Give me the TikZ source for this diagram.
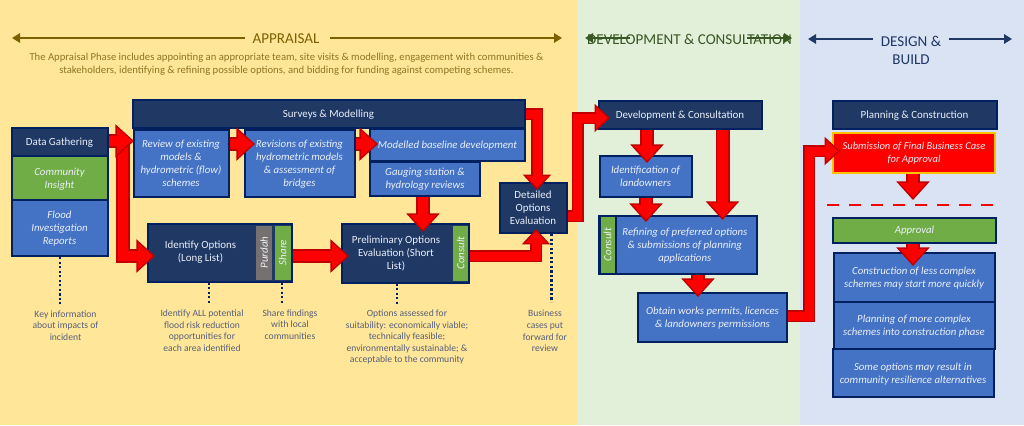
\documentclass[tikz,border=0pt]{standalone}
\usepackage{fontspec}
\setmainfont{Carlito}
\usetikzlibrary{arrows.meta}
\definecolor{navyfill}{HTML}{1F3864}
\definecolor{navyline}{HTML}{002060}
\definecolor{bluefill}{HTML}{4472C4}
\definecolor{greenfill}{HTML}{70AD47}
\definecolor{greyfill}{HTML}{767171}
\definecolor{goldline}{HTML}{FFC000}
\definecolor{flowdark}{HTML}{C00000}
\definecolor{paneyellow}{HTML}{FFE699}
\definecolor{panegreen}{HTML}{E2F0D9}
\definecolor{paneblue}{HTML}{DAE3F3}
\definecolor{headgold}{HTML}{7F6000}
\definecolor{headgreen}{HTML}{385723}
\definecolor{headblue}{HTML}{203864}
\definecolor{introtext}{HTML}{8F7722}
\definecolor{notetext}{HTML}{55607A}
\definecolor{boxtext}{HTML}{EAEFF8}
\newcommand{\redflow}[1]{\draw [flowunder] #1; \draw [flowover] #1;}
\newcommand{\redslim}[1]{\draw [slimunder] #1; \draw [slimover] #1;}
\begin{document}
\begin{tikzpicture}[x=0.75pt,y=-0.75pt]
\tikzstyle{every node}+=[inner sep=0pt, align=center]
\tikzstyle{size}=[minimum width=#1*0.75pt]
\tikzstyle{high}=[minimum height=#1*0.75pt]
\tikzstyle{bodyfont}=[font=\fontsize{8.2}{9.75}\selectfont]
\tikzstyle{navybox}=[draw=navyline, fill=navyfill, line width=1.5pt, text=boxtext, text depth=0pt, bodyfont]
\tikzstyle{bluebox}=[draw=navyline, fill=bluefill, line width=1.5pt, text=boxtext, text depth=0pt, font=\fontsize{8.1}{9.75}\selectfont\itshape]
\tikzstyle{greenbox}=[bluebox, fill=greenfill]
\tikzstyle{tabbox}=[text=boxtext, font=\fontsize{8.2}{9.75}\selectfont\itshape, rotate=90]
\tikzstyle{note}=[text=notetext, font=\fontsize{7.2}{8.65}\selectfont]
\tikzstyle{heading}=[font=\fontsize{11.3}{13.5}\selectfont]
\tikzstyle{flowunder}=[draw=flowdark, line width=10.5pt, -{Triangle[fill=red, color=flowdark, line width=1.1pt, width=25pt, length=14pt]}]
\tikzstyle{flowover}=[draw=red, line width=8pt, shorten >=10.5pt]
\tikzstyle{slimunder}=[draw=flowdark, line width=9pt, -{Triangle[fill=red, color=flowdark, line width=1.1pt, width=21pt, length=11.5pt]}]
\tikzstyle{slimover}=[draw=red, line width=6.75pt, shorten >=8.5pt]
\tikzstyle{stalk}=[draw=navyline, line width=1.6pt, dash pattern=on 1.7pt off 1.7pt]
\tikzstyle{phase}=[line width=1.9pt, {Triangle[width=7pt,length=6pt]}-]
\useasboundingbox (0,0) rectangle (1024,425);
\fill [paneyellow] (0,0) rectangle (577,425);
\fill [panegreen] (577,0) rectangle (800,425);
\fill [paneblue] (800,0) rectangle (1024,425);
\node (apphead) at (286,39) [heading, text=headgold] {APPRAISAL};
\node (appintro) at (286.5,64.5) [text=introtext, font=\fontsize{8}{9.75}\selectfont] {The Appraisal Phase includes appointing an appropriate team, site visits \& modelling, engagement with communities \&\\stakeholders, identifying \& refining possible options, and bidding for funding against competing schemes.};
\node (devhead) at (689.5,39) [heading, text=headgreen] {DEVELOPMENT \& CONSULTATION};
\node (deshead) at (911,50) [heading, text=headblue] {DESIGN \&\\BUILD};
\coordinate (appleft) at (12,38);
\coordinate (appright) at (562,38);
\coordinate (devleft) at (585,38);
\coordinate (devleftend) at (630,38);
\coordinate (devright) at (792,38);
\coordinate (devrightend) at (747,38);
\coordinate (desleft) at (808,39);
\coordinate (desright) at (1012,39);
\draw [phase, headgold] (appleft) -- (245,38);
\draw [phase, headgold] (appright) -- (330,38);
\draw [phase, headgreen] (devleft) -- (devleftend);
\draw [phase, headgreen] (devright) -- (devrightend);
\draw [phase, headblue] (desleft) -- (873,39);
\draw [phase, headblue] (desright) -- (949,39);
\node (dg) at (59.5,141.5) [navybox, size=96, high=28] {Data Gathering};
\node (comm) at (59.5,178) [greenbox, size=96, high=44] {Community\\Insight};
\node (flood) at (59.5,228) [bluebox, size=96, high=56] {Flood\\Investigation\\Reports};
\node (surv) at (328.5,114) [navybox, size=392, high=28] {Surveys \& Modelling};
\node (rev1) at (181,163) [bluebox, size=95, high=67] {Review of existing\\models \&\\hydrometric (flow)\\schemes};
\node (rev2) at (299.5,163) [bluebox, size=110, high=67] {Revisions of existing\\hydrometric models\\\& assessment of\\bridges};
\node (base) at (447.5,145) [bluebox, size=155, high=32] {Modelled baseline development};
\node (gauge) at (425,178.5) [bluebox, size=110, high=34] {Gauging station \&\\hydrology reviews};
\node (idop) at (219.5,252.5) [navybox, size=144, high=58] {};
\node (idoplbl) at (200.5,252.5) [text=boxtext, bodyfont] {Identify Options\\(Long List)};
\node (purdah) at (264,252.5) [tabbox, fill=greyfill, size=54, high=16] {Purdah};
\node (share) at (282.5,252.5) [tabbox, fill=greenfill, size=54, high=16] {Share};
\node (prelim) at (405,253) [navybox, size=127, high=59] {};
\node (prelimlbl) at (396,253) [text=boxtext, bodyfont] {Preliminary Options\\Evaluation (Short\\List)};
\node (consa) at (460.5,253) [tabbox, fill=greenfill, size=55, high=15] {Consult};
\node (detail) at (533,208) [navybox, size=67, high=50] {Detailed\\Options\\Evaluation};
\node (dev) at (680,114.5) [navybox, size=163, high=28] {Development \& Consultation};
\node (land) at (645.5,176) [bluebox, size=92, high=41] {Identification of\\landowners};
\node (refin) at (677.5,244.5) [bluebox, size=158, high=58] {\hspace*{11pt}Refining of preferred options\\\hspace*{11pt}\& submissions of planning\\\hspace*{11pt}applications};
\node (consb) at (607.5,244.5) [tabbox, draw=navyline, line width=1.5pt, fill=greenfill, size=58, high=16] {Consult};
\node (obtain) at (712.5,317) [bluebox, size=149, high=49] {Obtain works permits, licences\\\& landowners permissions};
\node (plan) at (914.5,114.5) [navybox, size=164, high=28] {Planning \& Construction};
\node (subm) at (914,152.5) [bluebox, draw=goldline, fill=red, size=162, high=40, font=\fontsize{7.9}{9.75}\selectfont\itshape] {Submission of Final Business Case\\for Approval};
\node (appr) at (914.5,230) [greenbox, size=163, high=25] {Approval};
\node (cons1) at (914,277.5) [bluebox, size=161, high=49] {Construction of less complex\\schemes may start more quickly};
\node (cons2) at (914,325.5) [bluebox, size=161, high=47] {Planning of more complex\\schemes into construction phase};
\node (cons3) at (913,373) [bluebox, size=161, high=48] {Some options may result in\\community resilience alternatives};
\coordinate (rev1in) at (134,141);
\coordinate (dgdrop) at (123,141);
\coordinate (idopin) at (155,256);
\coordinate (rev2in) at (255,144);
\coordinate (basein) at (378,144);
\coordinate (detin) at (537,190);
\coordinate (prein) at (423,232);
\coordinate (prelimin) at (349,256);
\coordinate (detup) at (536,229);
\coordinate (devbend) at (577.5,216);
\coordinate (devin) at (610,118);
\coordinate (landin) at (647,163);
\coordinate (refinin) at (722.5,220);
\coordinate (refinup) at (646,222);
\coordinate (obtainin) at (698,297);
\coordinate (subbend) at (809,316);
\coordinate (subin) at (840,151);
\coordinate (rulein) at (913,200);
\coordinate (cons1in) at (913,266);
\coordinate (ruleleft) at (827,205);
\coordinate (ruleright) at (1002,205);
\redflow{(dgdrop) |- (idopin)}
\redflow{(dg.east |- rev1in) -- (rev1in)}
\redflow{(rev1.east |- rev2in) -- (rev2in)}
\redflow{(rev2.east |- basein) -- (basein)}
\redslim{(surv.east) -| (detin)}
\redflow{(gauge.south -| prein) -- (prein)}
\redflow{(idop.east |- prelimin) -- (prelimin)}
\redslim{(prelim.east |- prelimin) -| (detup)}
\redslim{(detail.east |- devbend) -- (devbend) |- (devin)}
\redflow{(dev.south -| landin) -- (landin)}
\redflow{(dev.south -| refinin) -- (refinin)}
\redflow{(land.south -| refinup) -- (refinup)}
\redflow{(refin.south -| obtainin) -- (obtainin)}
\redslim{(obtain.east |- subbend) -- (subbend) |- (subin)}
\redflow{(subm.south -| rulein) -- (rulein)}
\redflow{(appr.south -| cons1in) -- (cons1in)}
\draw [red, line width=2.2pt, dash pattern=on 9pt off 7.5pt] (ruleleft) -- (ruleright);
\node (note1) at (65.5,325.5) [note] {Key information\\about impacts of\\incident};
\node (note2) at (202,330.5) [note] {Identify ALL potential\\flood risk reduction\\opportunities for\\each area identified};
\node (note3) at (290,324.5) [note] {Share findings\\with local\\communities};
\node (note4) at (407,337) [note] {Options assessed for\\suitability: economically viable;\\technically feasible;\\environmentally sustainable; \&\\acceptable to the community};
\node (note5) at (545,331) [note] {Business\\cases put\\forward for\\review};
\coordinate (stalk1) at (60,304);
\coordinate (stalk2) at (209,304);
\coordinate (stalk3) at (282,304);
\coordinate (stalk4) at (397,304);
\coordinate (stalk5) at (551.5,302);
\draw [stalk] (flood.south -| stalk1) -- (stalk1);
\draw [stalk] (idop.south -| stalk2) -- (stalk2);
\draw [stalk] (idop.south -| stalk3) -- (stalk3);
\draw [stalk] (prelim.south -| stalk4) -- (stalk4);
\draw [stalk] (detail.south -| stalk5) -- (stalk5);
\end{tikzpicture}
\end{document}
